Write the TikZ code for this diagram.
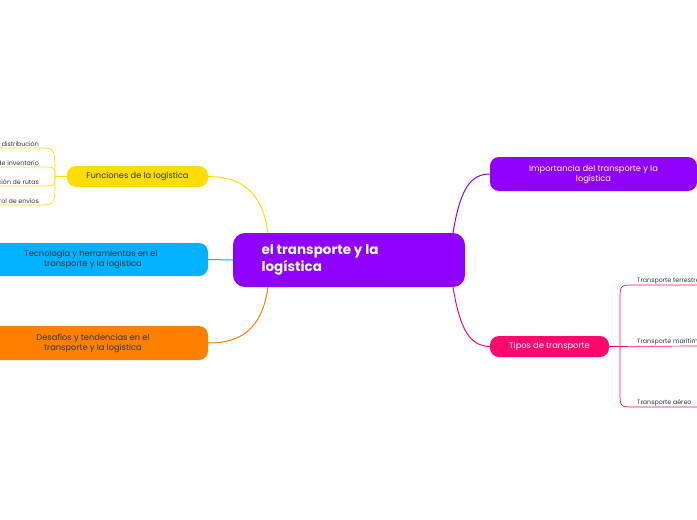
\documentclass[tikz,border=0pt]{standalone}
\usepackage{fontspec}
\setmainfont{Poppins}
\definecolor{cpur}{HTML}{8F00FF}
\definecolor{cyel}{HTML}{FFDD00}
\definecolor{ccya}{HTML}{00B2FF}
\definecolor{cora}{HTML}{FF7F00}
\definecolor{cpink}{HTML}{FF0A6C}
\definecolor{ctxt}{HTML}{333333}
\begin{document}
\begin{tikzpicture}[x=1pt,y=-1pt,
 box/.style={rounded corners=9pt,inner sep=0pt,font=\fontsize{8.3}{10}\selectfont,align=center},
 leaf/.style={font=\fontsize{6.3}{7}\selectfont,text=ctxt,inner sep=1pt,anchor=south east},
 conn/.style={line width=1pt}]
\useasboundingbox (0,0) rectangle (697,520);
\clip (0,0) rectangle (697,520);
\node[box,fill=cpur,text=white,minimum width=232pt,minimum height=54pt,rounded corners=12pt] (c) at (349,260) {};
\node[anchor=west,text=white,font=\bfseries\fontsize{13.5}{17}\selectfont,align=left] (ct) at (258,260) {el transporte y la\\logística};
\node[box,fill=cyel,text=ctxt,minimum width=141pt,minimum height=21pt] (f) at (137.5,176.5) {Funciones de la logística};
\node[box,fill=ccya,text=ctxt,minimum width=230pt,minimum height=33pt] (t) at (93,259.5) {\hspace*{-4pt}Tecnología y herramientas en el\\transporte y la logística};
\node[box,fill=cora,text=ctxt,minimum width=230pt,minimum height=34pt] (d) at (93,343) {Desafíos y tendencias en el\\transporte y la logística};
\node[box,fill=cpur,text=white,minimum width=207pt,minimum height=34pt] (i) at (593.5,174) {Importancia del transporte y la\\logística};
\node[box,fill=cpink,text=white,minimum width=119pt,minimum height=21pt] (p) at (549.5,346.5) {Tipos de transporte};
\draw[conn,cyel] (268,233) .. controls (262,190) and (240,177) .. (f.east);
\draw[conn,ccya] (c.west) -- (t.east);
\draw[conn,cora] (268,287) .. controls (262,330) and (240,343) .. (d.east);
\draw[conn,cpur] (453,233) .. controls (460,190) and (470,174) .. (i.west);
\draw[conn,cpink] (453,287) .. controls (460,330) and (470,346) .. (p.west);
\foreach \yy/\tx [count=\k] in {148/Canales de distribución,167/Gestión de inventario,186/Planificación de rutas,205/Control de envíos}{
 \node[leaf] (y\k) at (40,\yy) {\tx};
}
\draw[cyel,line width=0.7pt] (f.west) -- (55,176.5);
\foreach \yy in {148,167,186,205}{
 \draw[cyel,line width=0.7pt] (55,176.5) .. controls (55,\yy) .. (40,\yy) -- (0,\yy);
}
\foreach \yy/\tx [count=\k] in {285/Transporte terrestre,346/Transporte marítimo,407/Transporte aéreo}{
 \node[leaf,anchor=south west] (q\k) at (636,\yy) {\tx};
}
\draw[cpink,line width=0.7pt] (p.east) -- (697,346);
\draw[cpink,line width=0.7pt] (620,346) -- (620,300) .. controls (620,285) .. (635,285) -- (697,285);
\draw[cpink,line width=0.7pt] (620,346) -- (620,392) .. controls (620,407) .. (635,407) -- (697,407);
\end{tikzpicture}
\end{document}
